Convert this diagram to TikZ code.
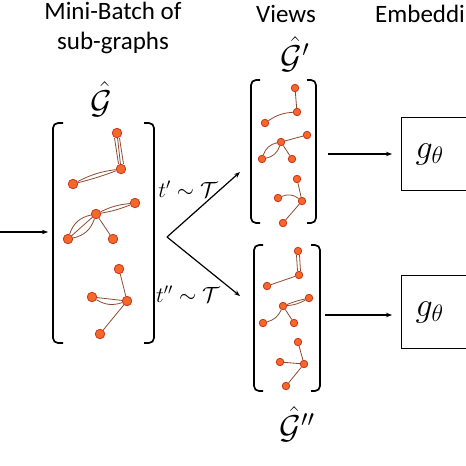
\RequirePackage{fix-cm}
\documentclass[tikz,border=0pt]{standalone}
\usepackage{fontspec}
\setmainfont{Carlito}
\usetikzlibrary{arrows.meta}
\definecolor{vfill}{HTML}{F4692A}
\definecolor{vdraw}{HTML}{C8361E}
\definecolor{elink}{HTML}{8C4A2F}
\tikzset{
  vtx/.style={circle, fill=vfill, draw=vdraw, line width=0.8, inner sep=0, minimum size=9.5},
  vtxs/.style={vtx, minimum size=7.5},
  lnk/.style={draw=elink, line width=0.8},
  brk/.style={line width=1.7, rounded corners=5},
  flow/.style={-{Stealth[length=6, width=4.5]}, line width=1.2},
  embbox/.style={draw, line width=1.4, anchor=west, minimum height=73, text width=70, inner xsep=14, align=left, font=\fontsize{34}{34}\selectfont},
  title/.style={font=\fontsize{25}{30}\selectfont, inner sep=0, align=center},
  glabel/.style={font=\fontsize{33}{36}\selectfont, inner sep=0}
}
\begin{document}
\begin{tikzpicture}[x=1pt, y=-1pt]
        \useasboundingbox (0,0) rectangle (466,466);
        \clip (0,0) rectangle (466,466);

        % titles
        \node[title, anchor=north] (tbatch) at (113,2) {Mini-Batch of\\sub-graphs};
        \node[title, anchor=base] (tviews) at (286,22) {Views};
        \node[title, anchor=base west] (temb) at (375,22) {Embeddings};

        \node[glabel] (gbatch) at (101,99) {$\hat{\mathcal{G}}$};
        \node[glabel] (gview1) at (295,54) {$\hat{\mathcal{G}}'$};
        \node[glabel] (gview2) at (297,424) {$\hat{\mathcal{G}}''$};

        % brackets
        \draw[brk] (63,123) -- (53,123) -- (53,343) -- (63,343);
        \draw[brk] (144,123) -- (154,123) -- (154,343) -- (144,343);
        \draw[brk] (260,80) -- (251,80) -- (251,223) -- (260,223);
        \draw[brk] (307,80) -- (316,80) -- (316,223) -- (307,223);
        \draw[brk] (263,245) -- (254,245) -- (254,391) -- (263,391);
        \draw[brk] (311,245) -- (320,245) -- (320,391) -- (311,391);

        % mini-batch
        \node[vtx] (m1t) at (117,133) {};
        \node[vtx] (m1m) at (121,169) {};
        \node[vtx] (m1l) at (73,184) {};
        \draw[lnk] (m1t) -- (m1m);
        \draw[lnk] ([xshift=-2.5]m1t.south) -- ([xshift=-2.5]m1m.north);
        \draw[lnk] ([xshift=2.5]m1t.south) -- ([xshift=2.5]m1m.north);
        \draw[lnk] (m1m) to[bend right=10] (m1l);
        \draw[lnk] (m1m) to[bend left=3] (m1l);

        \node[vtx] (m2h) at (96,214) {};
        \node[vtx] (m2r) at (135,203) {};
        \node[vtx] (m2a) at (68,239) {};
        \node[vtx] (m2b) at (113,239) {};
        \draw[lnk] (m2h) to[bend left=10] (m2r);
        \draw[lnk] (m2h) to[bend right=6] (m2r);
        \draw[lnk] (m2h) -- (m2a);
        \draw[lnk] (m2h) to[bend left=30] (m2a);
        \draw[lnk] (m2h) to[bend right=30] (m2a);
        \draw[lnk] (m2h) -- (m2b);

        \node[vtx] (m3t) at (119,269) {};
        \node[vtx] (m3l) at (92,297) {};
        \node[vtx] (m3r) at (127,301) {};
        \node[vtx] (m3b) at (100,334) {};
        \draw[lnk] (m3t) -- (m3r);
        \draw[lnk] (m3l) -- (m3r);
        \draw[lnk] (m3l) to[bend right=25] (m3r);
        \draw[lnk] (m3r) -- (m3b);

        % view one
        \node[vtxs] (p1t) at (295,88) {};
        \node[vtxs] (p1m) at (297,112) {};
        \node[vtxs] (p1l) at (265,123) {};
        \draw[lnk] (p1t) -- (p1m);
        \draw[lnk] (p1m) to[bend right=15] (p1l);

        \node[vtxs] (p2h) at (281,142) {};
        \node[vtxs] (p2r) at (307,135) {};
        \node[vtxs] (p2a) at (262,159) {};
        \node[vtxs] (p2b) at (292,159) {};
        \draw[lnk] (p2h) -- (p2r);
        \draw[lnk] (p2h) to[bend left=30] (p2a);
        \draw[lnk] (p2h) to[bend right=30] (p2a);
        \draw[lnk] (p2h) -- (p2b);

        \node[vtxs] (p3t) at (297,179) {};
        \node[vtxs] (p3l) at (278,198) {};
        \node[vtxs] (p3r) at (302,201) {};
        \node[vtxs] (p3b) at (283,223) {};
        \draw[lnk] (p3t) -- (p3r);
        \draw[lnk] (p3l) to[bend left=30] (p3r);
        \draw[lnk] (p3r) -- (p3b);

        % view two
        \node[vtxs] (q1t) at (298,251) {};
        \node[vtxs] (q1m) at (299,275) {};
        \node[vtxs] (q1l) at (267,286) {};
        \draw[lnk] ([xshift=-1.5]q1t.south) -- ([xshift=-1.5]q1m.north);
        \draw[lnk] ([xshift=1.5]q1t.south) -- ([xshift=1.5]q1m.north);
        \draw[lnk] (q1m) -- (q1l);

        \node[vtxs] (q2h) at (283,306) {};
        \node[vtxs] (q2r) at (309,298) {};
        \node[vtxs] (q2a) at (263,323) {};
        \node[vtxs] (q2b) at (294,323) {};
        \draw[lnk] (q2h) to[bend right=12] (q2r);
        \draw[lnk] (q2h) to[bend left=4] (q2r);
        \draw[lnk] (q2h) to[bend left=25] (q2a);
        \draw[lnk] (q2h) -- (q2b);

        \node[vtxs] (q3t) at (298,342) {};
        \node[vtxs] (q3l) at (280,362) {};
        \node[vtxs] (q3r) at (304,364) {};
        \node[vtxs] (q3b) at (286,386) {};
        \draw[lnk] (q3t) -- (q3r);
        \draw[lnk] (q3l) -- (q3r);
        \draw[lnk] (q3r) -- (q3b);

        % encoders
        \node[embbox] (enc1) at (401,154) {$g_\theta$};
        \node[embbox] (enc2) at (401,312) {$g_\theta$};

        % arrows
        \coordinate (src) at (0,232);
        \coordinate (srcend) at (48,232);
        \coordinate (split) at (167,237);
        \coordinate (view1in) at (240,172);
        \coordinate (view2in) at (240,296);
        \coordinate (view1out) at (328,154);
        \coordinate (view2out) at (325,315);
        \draw[flow] (src) -- (srcend);
        \draw[flow] (split) -- (view1in);
        \draw[flow] (split) -- (view2in);
        \draw[flow, shorten >=9] (view1out) -- (view1out -| enc1.west);
        \draw[flow, shorten >=9] (view2out) -- (view2out -| enc2.west);

        \node[font=\fontsize{22}{24}\selectfont] (t1) at (188,189) {$t' \sim \mathcal{T}$};
        \node[font=\fontsize{22}{24}\selectfont] (t2) at (188,294) {$t'' \sim \mathcal{T}$};
    \end{tikzpicture}
\end{document}
